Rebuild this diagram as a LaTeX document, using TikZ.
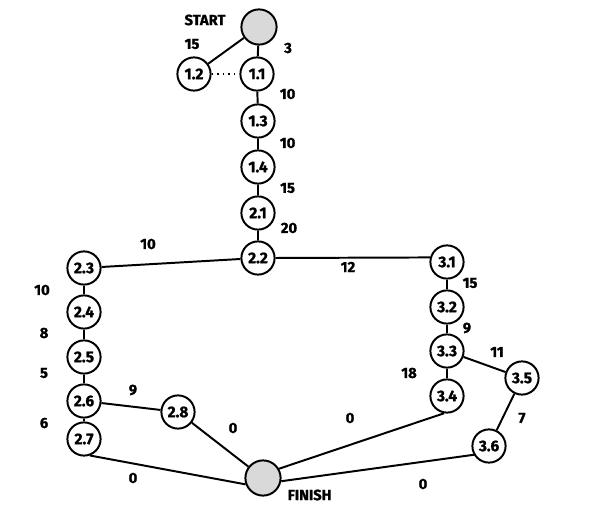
\documentclass[tikz,border=0pt]{standalone}
\usepackage{fontspec}
\setmainfont{Fira Sans}[FakeBold=1.2]

\begin{document}
\begin{tikzpicture}[
    line width=1.4pt,
    act/.style={circle, draw, minimum size=0.83cm, inner sep=0pt, font=\fontsize{11}{12}\selectfont\bfseries},
    ends/.style={act, minimum size=0.88cm, fill=gray!30},
    num/.style={font=\fontsize{10.5}{12}\selectfont\bfseries}
  ]

  \useasboundingbox (0,0) rectangle (14.775,13.025);

  %%%%%%%%%%%%%%%%%%%%%%%%%%%%%%%%%%%%%%%%%%%%%%%%%
  % Activities
  \node[ends] (st) at (6.475, 12.35) {};
  \node[act] (n12) at (4.85, 11.175) {1.2};
  \node[act] (n11) at (6.425, 11.175) {1.1};
  \node[act] (n13) at (6.45, 10.0) {1.3};
  \node[act] (n14) at (6.45, 8.85) {1.4};
  \node[act] (n21) at (6.45, 7.7) {2.1};
  \node[act] (n22) at (6.45, 6.575) {2.2};

  \node[act] (n23) at (2.1, 6.325) {2.3};
  \node[act] (n24) at (2.1, 5.225) {2.4};
  \node[act] (n25) at (2.1, 4.1) {2.5};
  \node[act] (n26) at (2.1, 3.0) {2.6};
  \node[act] (n27) at (2.1, 2.05) {2.7};
  \node[act] (n28) at (4.45, 2.725) {2.8};

  \node[act] (n31) at (11.175, 6.475) {3.1};
  \node[act] (n32) at (11.175, 5.35) {3.2};
  \node[act] (n33) at (11.175, 4.25) {3.3};
  \node[act] (n34) at (11.175, 3.125) {3.4};
  \node[act] (n35) at (13.05, 3.575) {3.5};
  \node[act] (n36) at (12.225, 1.875) {3.6};

  \node[ends] (fin) at (6.575, 1.075) {};

  %%%%%%%%%%%%%%%%%%%%%%%%%%%%%%%%%%%%%%%%%%%%%%%%%
  % Links
  \draw (st) -- (n12);
  \draw (st) -- (n11);
  \draw[line width=1pt, dash pattern=on 1pt off 3pt] (n12) -- (n11);
  \draw (n11) -- (n13) -- (n14) -- (n21) -- (n22);
  \draw (n22) -- (n23);
  \draw (n22.east) -- (n31.165);
  \draw (n23) -- (n24) -- (n25) -- (n26) -- (n27);
  \draw (n26) -- (n28);
  \draw (n28) -- (fin);
  \draw (n27.-70) -- (fin.200);
  \draw (n31) -- (n32) -- (n33) -- (n34);
  \draw (n33) -- (n35) -- (n36);
  \draw (n34.-100) -- (fin.30);
  \draw (n36.210) -- (fin.-10);

  %%%%%%%%%%%%%%%%%%%%%%%%%%%%%%%%%%%%%%%%%%%%%%%%%
  % Labels
  \node[num] (tst) at (5.125, 12.525) {START};
  \node[num] (tfin) at (7.74, 0.65) {FINISH};

  \node[num] (d12) at (4.8, 11.925) {15};
  \node[num] (d11) at (7.2, 11.825) {3};
  \node[num] (d13) at (7.19, 10.675) {10};
  \node[num] (d14) at (7.19, 9.45) {10};
  \node[num] (d21) at (7.19, 8.325) {15};
  \node[num] (d22) at (7.225, 7.325) {20};

  \node[num] (d23) at (3.7, 6.925) {10};
  \node[num] (d24) at (1.05, 5.775) {10};
  \node[num] (d25) at (1.1, 4.7) {8};
  \node[num] (d26) at (1.1, 3.7) {5};
  \node[num] (d27) at (1.1, 2.45) {6};
  \node[num] (d28) at (3.325, 3.275) {9};
  \node[num] (f28) at (5.825, 2.325) {0};
  \node[num] (f27) at (3.325, 1.075) {0};

  \node[num] (d31) at (8.7, 6.35) {12};
  \node[num] (d32) at (11.75, 5.95) {15};
  \node[num] (d33) at (11.675, 4.825) {9};
  \node[num] (d34) at (10.225, 3.7) {18};
  \node[num] (d35) at (12.425, 4.225) {11};
  \node[num] (d36) at (13.05, 2.575) {7};
  \node[num] (f34) at (8.75, 2.575) {0};
  \node[num] (f36) at (10.575, 0.925) {0};

\end{tikzpicture}
\end{document}
